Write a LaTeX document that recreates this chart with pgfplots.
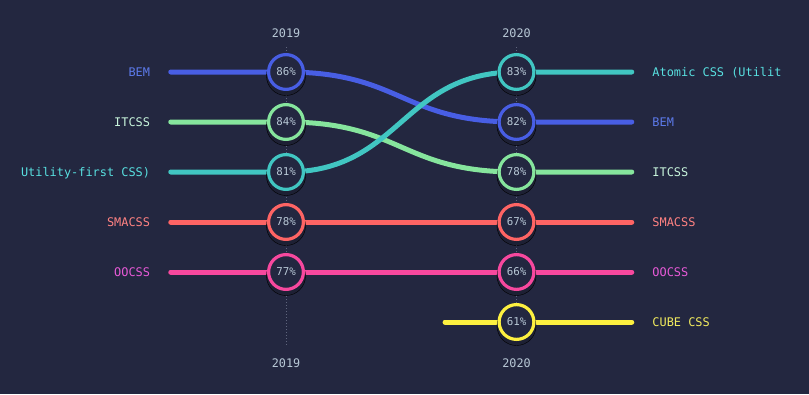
\documentclass[border=0pt]{standalone}
\usepackage{pgfplots}
\pgfplotsset{compat=1.18}
\usepackage{fontspec}
\setmainfont{DejaVu Sans Mono}
\definecolor{bg}{RGB}{35,39,64}
\definecolor{shadow}{RGB}{29,32,52}
\definecolor{dotc}{RGB}{95,101,125}
\definecolor{pct}{RGB}{184,200,214}
\definecolor{cBEM}{RGB}{72,94,228}
\definecolor{tBEM}{RGB}{92,122,234}
\definecolor{cIT}{RGB}{134,229,157}
\definecolor{tIT}{RGB}{200,245,220}
\definecolor{cUT}{RGB}{65,198,194}
\definecolor{tUT}{RGB}{88,224,224}
\definecolor{cSM}{RGB}{254,100,100}
\definecolor{tSM}{RGB}{255,130,130}
\definecolor{cOO}{RGB}{247,72,158}
\definecolor{tOO}{RGB}{232,90,216}
\definecolor{cCU}{RGB}{253,240,64}
\definecolor{tCU}{RGB}{243,236,94}
\makeatletter
\newdimen\bmp@px \newdimen\bmp@py \newdimen\bmp@cx \newdimen\bmp@cy \newdimen\bmp@mx
\def\pgfplothandlerbumpx{%
  \def\pgf@plotstreamstart{%
    \global\let\pgf@plotstreampoint=\bmp@first
    \global\let\pgf@plotstreamspecial=\pgfutil@gobble
    \global\let\pgf@plotstreamend=\relax
  }%
}
\def\bmp@first#1{%
  \pgf@process{#1}%
  \global\bmp@px=\pgf@x \global\bmp@py=\pgf@y
  \pgf@plot@first@action{\pgfqpoint{\bmp@px}{\bmp@py}}%
  \global\let\pgf@plotstreampoint=\bmp@next}
\def\bmp@next#1{%
  \pgf@process{#1}%
  \global\bmp@cx=\pgf@x \global\bmp@cy=\pgf@y
  \global\bmp@mx=\bmp@px \global\advance\bmp@mx by \bmp@cx
  \global\divide\bmp@mx by 2
  \pgfpathcurveto{\pgfqpoint{\bmp@mx}{\bmp@py}}{\pgfqpoint{\bmp@mx}{\bmp@cy}}{\pgfqpoint{\bmp@cx}{\bmp@cy}}%
  \global\bmp@px=\bmp@cx \global\bmp@py=\bmp@cy}
\tikzset{bumpx/.code={\let\tikz@plot@handler=\pgfplothandlerbumpx}}
\makeatother
\tikzset{
  lab/.style={font=\fontsize{11.9}{13}\selectfont, text=#1, yshift=-4.2pt, inner sep=0pt},
  yr/.style={font=\fontsize{11.8}{13}\selectfont, text=pct},
}
\pgfplotsset{
  rankline/.style={bumpx, line width=5pt, line cap=round, draw=#1, mark=none},
  ring/.style={only marks, mark=*, mark size=17.4pt,
    mark options={fill=bg, draw=#1, line width=3.2pt},
    nodes near coords, point meta=explicit symbolic,
    every node near coord/.append style={anchor=center, font=\fontsize{10.8}{12}\selectfont, text=pct, inner sep=0pt}},
  shad/.style={only marks, mark=*, mark size=19.5pt,
    mark options={fill=shadow, draw=none, yshift=-4pt}},
}
\begin{document}
\begin{tikzpicture}
\begin{axis}[
  scale only axis, width=809pt, height=394pt,
  xmin=2017.75922, xmax=2021.26898,
  ymin=-0.44, ymax=7.44, y dir=reverse,
  hide axis, clip=false,
]
\fill[bg] (rel axis cs:0,0) rectangle (rel axis cs:1,1);
% dotted guides
\addplot[dotc, line width=0.8pt, dash pattern=on 1pt off 2pt] coordinates {(2019,0.5) (2019,6.46)};
\addplot[dotc, line width=0.8pt, dash pattern=on 1pt off 2pt] coordinates {(2020,0.5) (2020,6.46)};
% rank lines
\addplot[rankline=cBEM] coordinates {(2018.5,1) (2019,1) (2020,2) (2020.5,2)};
\addplot[rankline=cIT] coordinates {(2018.5,2) (2019,2) (2020,3) (2020.5,3)};
\addplot[rankline=cUT] coordinates {(2018.5,3) (2019,3) (2020,1) (2020.5,1)};
\addplot[rankline=cSM] coordinates {(2018.5,4) (2019,4) (2020,4) (2020.5,4)};
\addplot[rankline=cOO] coordinates {(2018.5,5) (2019,5) (2020,5) (2020.5,5)};
\addplot[rankline=cCU] coordinates {(2019.69,6) (2020,6) (2020.5,6)};
% shadows
\addplot[shad] coordinates {(2019,1) (2019,2) (2019,3) (2019,4) (2019,5) (2020,1) (2020,2) (2020,3) (2020,4) (2020,5) (2020,6)};
% rings with values
\addplot[ring=cBEM] coordinates {(2019,1) [86\%] (2020,2) [82\%]};
\addplot[ring=cIT] coordinates {(2019,2) [84\%] (2020,3) [78\%]};
\addplot[ring=cUT] coordinates {(2019,3) [81\%] (2020,1) [83\%]};
\addplot[ring=cSM] coordinates {(2019,4) [78\%] (2020,4) [67\%]};
\addplot[ring=cOO] coordinates {(2019,5) [77\%] (2020,5) [66\%]};
\addplot[ring=cCU] coordinates {(2020,6) [61\%]};
% year labels
\node[yr] at (axis cs:2019,0.22) {2019};
\node[yr] at (axis cs:2020,0.22) {2020};
\node[yr] at (axis cs:2019,6.82) {2019};
\node[yr] at (axis cs:2020,6.82) {2020};
% left labels
\node[lab=tBEM, anchor=base east] at (axis cs:2018.411,1) {BEM};
\node[lab=tIT, anchor=base east] at (axis cs:2018.411,2) {ITCSS};
\node[lab=tUT, anchor=base east] at (axis cs:2018.411,3) {Utility-first CSS)};
\node[lab=tSM, anchor=base east] at (axis cs:2018.411,4) {SMACSS};
\node[lab=tOO, anchor=base east] at (axis cs:2018.411,5) {OOCSS};
% right labels
\node[lab=tUT, anchor=base west] at (axis cs:2020.589,1) {Atomic CSS (Utilit};
\node[lab=tBEM, anchor=base west] at (axis cs:2020.589,2) {BEM};
\node[lab=tIT, anchor=base west] at (axis cs:2020.589,3) {ITCSS};
\node[lab=tSM, anchor=base west] at (axis cs:2020.589,4) {SMACSS};
\node[lab=tOO, anchor=base west] at (axis cs:2020.589,5) {OOCSS};
\node[lab=tCU, anchor=base west] at (axis cs:2020.589,6) {CUBE CSS};
\end{axis}
\end{tikzpicture}
\end{document}
